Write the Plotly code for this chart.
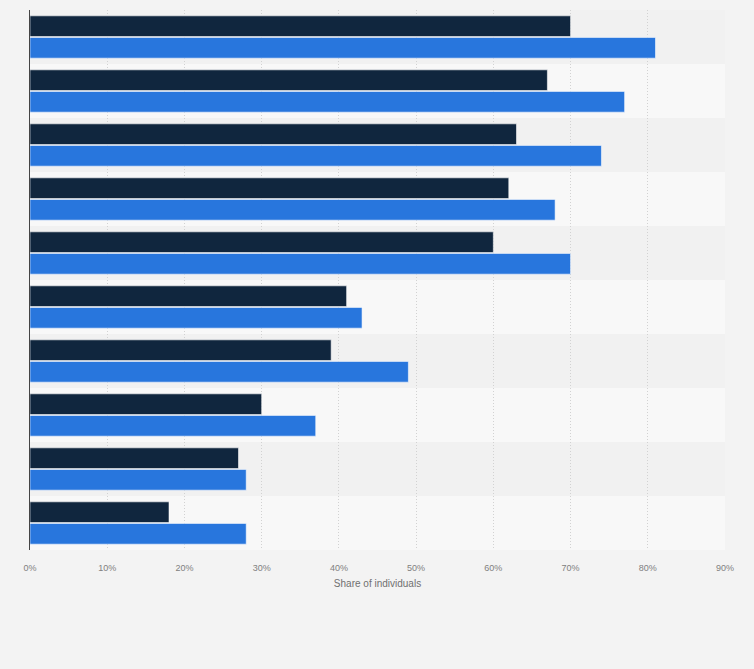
import plotly.graph_objects as go

categories = ["Category 1", "Category 2", "Category 3", "Category 4", "Category 5",
              "Category 6", "Category 7", "Category 8", "Category 9", "Category 10"]
series_dark = [70, 67, 63, 62, 60, 41, 39, 30, 27, 18]
series_blue = [81, 77, 74, 68, 70, 43, 49, 37, 28, 28]
tick_vals = [0, 10, 20, 30, 40, 50, 60, 70, 80, 90]
tick_text = [f"{v}%" for v in tick_vals]

fig = go.Figure()
fig.add_trace(go.Bar(
    y=categories, x=series_dark, orientation="h", name="Series 1",
    marker=dict(color="#10263e", line=dict(color="rgba(255,255,255,0.55)", width=1)),
))
fig.add_trace(go.Bar(
    y=categories, x=series_blue, orientation="h", name="Series 2",
    marker=dict(color="#2876dd", line=dict(color="rgba(255,255,255,0.55)", width=1)),
))

shapes = []
for i in range(len(categories)):
    shapes.append(dict(
        type="rect", xref="x", yref="y", x0=0, x1=90, y0=i - 0.5, y1=i + 0.5,
        fillcolor="#f1f1f1" if i % 2 == 0 else "#f8f8f8",
        line=dict(width=0), layer="below",
    ))

fig.update_layout(
    width=754, height=669,
    margin=dict(l=30, r=29, t=10, b=119),
    paper_bgcolor="#f3f3f3", plot_bgcolor="#f3f3f3",
    barmode="group", bargap=0.2, bargroupgap=0.04,
    showlegend=False,
    shapes=shapes,
    font=dict(family="Liberation Sans, Arial, sans-serif", color="#666666"),
    xaxis=dict(
        range=[0, 90], tickvals=tick_vals, ticktext=tick_text,
        showgrid=True, gridcolor="#d2d2d2", griddash="1px,2px", gridwidth=1,
        zeroline=False, showline=False,
        ticks="outside", ticklen=9, tickcolor="rgba(0,0,0,0)",
        tickfont=dict(size=9, color="#808080"),
        title=dict(text="Share of individuals", font=dict(size=10, color="#707070"), standoff=8),
    ),
    yaxis=dict(
        autorange="reversed", showticklabels=False, ticks="",
        showgrid=False, zeroline=False,
        showline=True, linecolor="#444444", linewidth=1,
    ),
)

fig.write_html("out.html", config={"displayModeBar": False},
               post_script="document.body.style.margin='0';document.body.style.padding='0';")
